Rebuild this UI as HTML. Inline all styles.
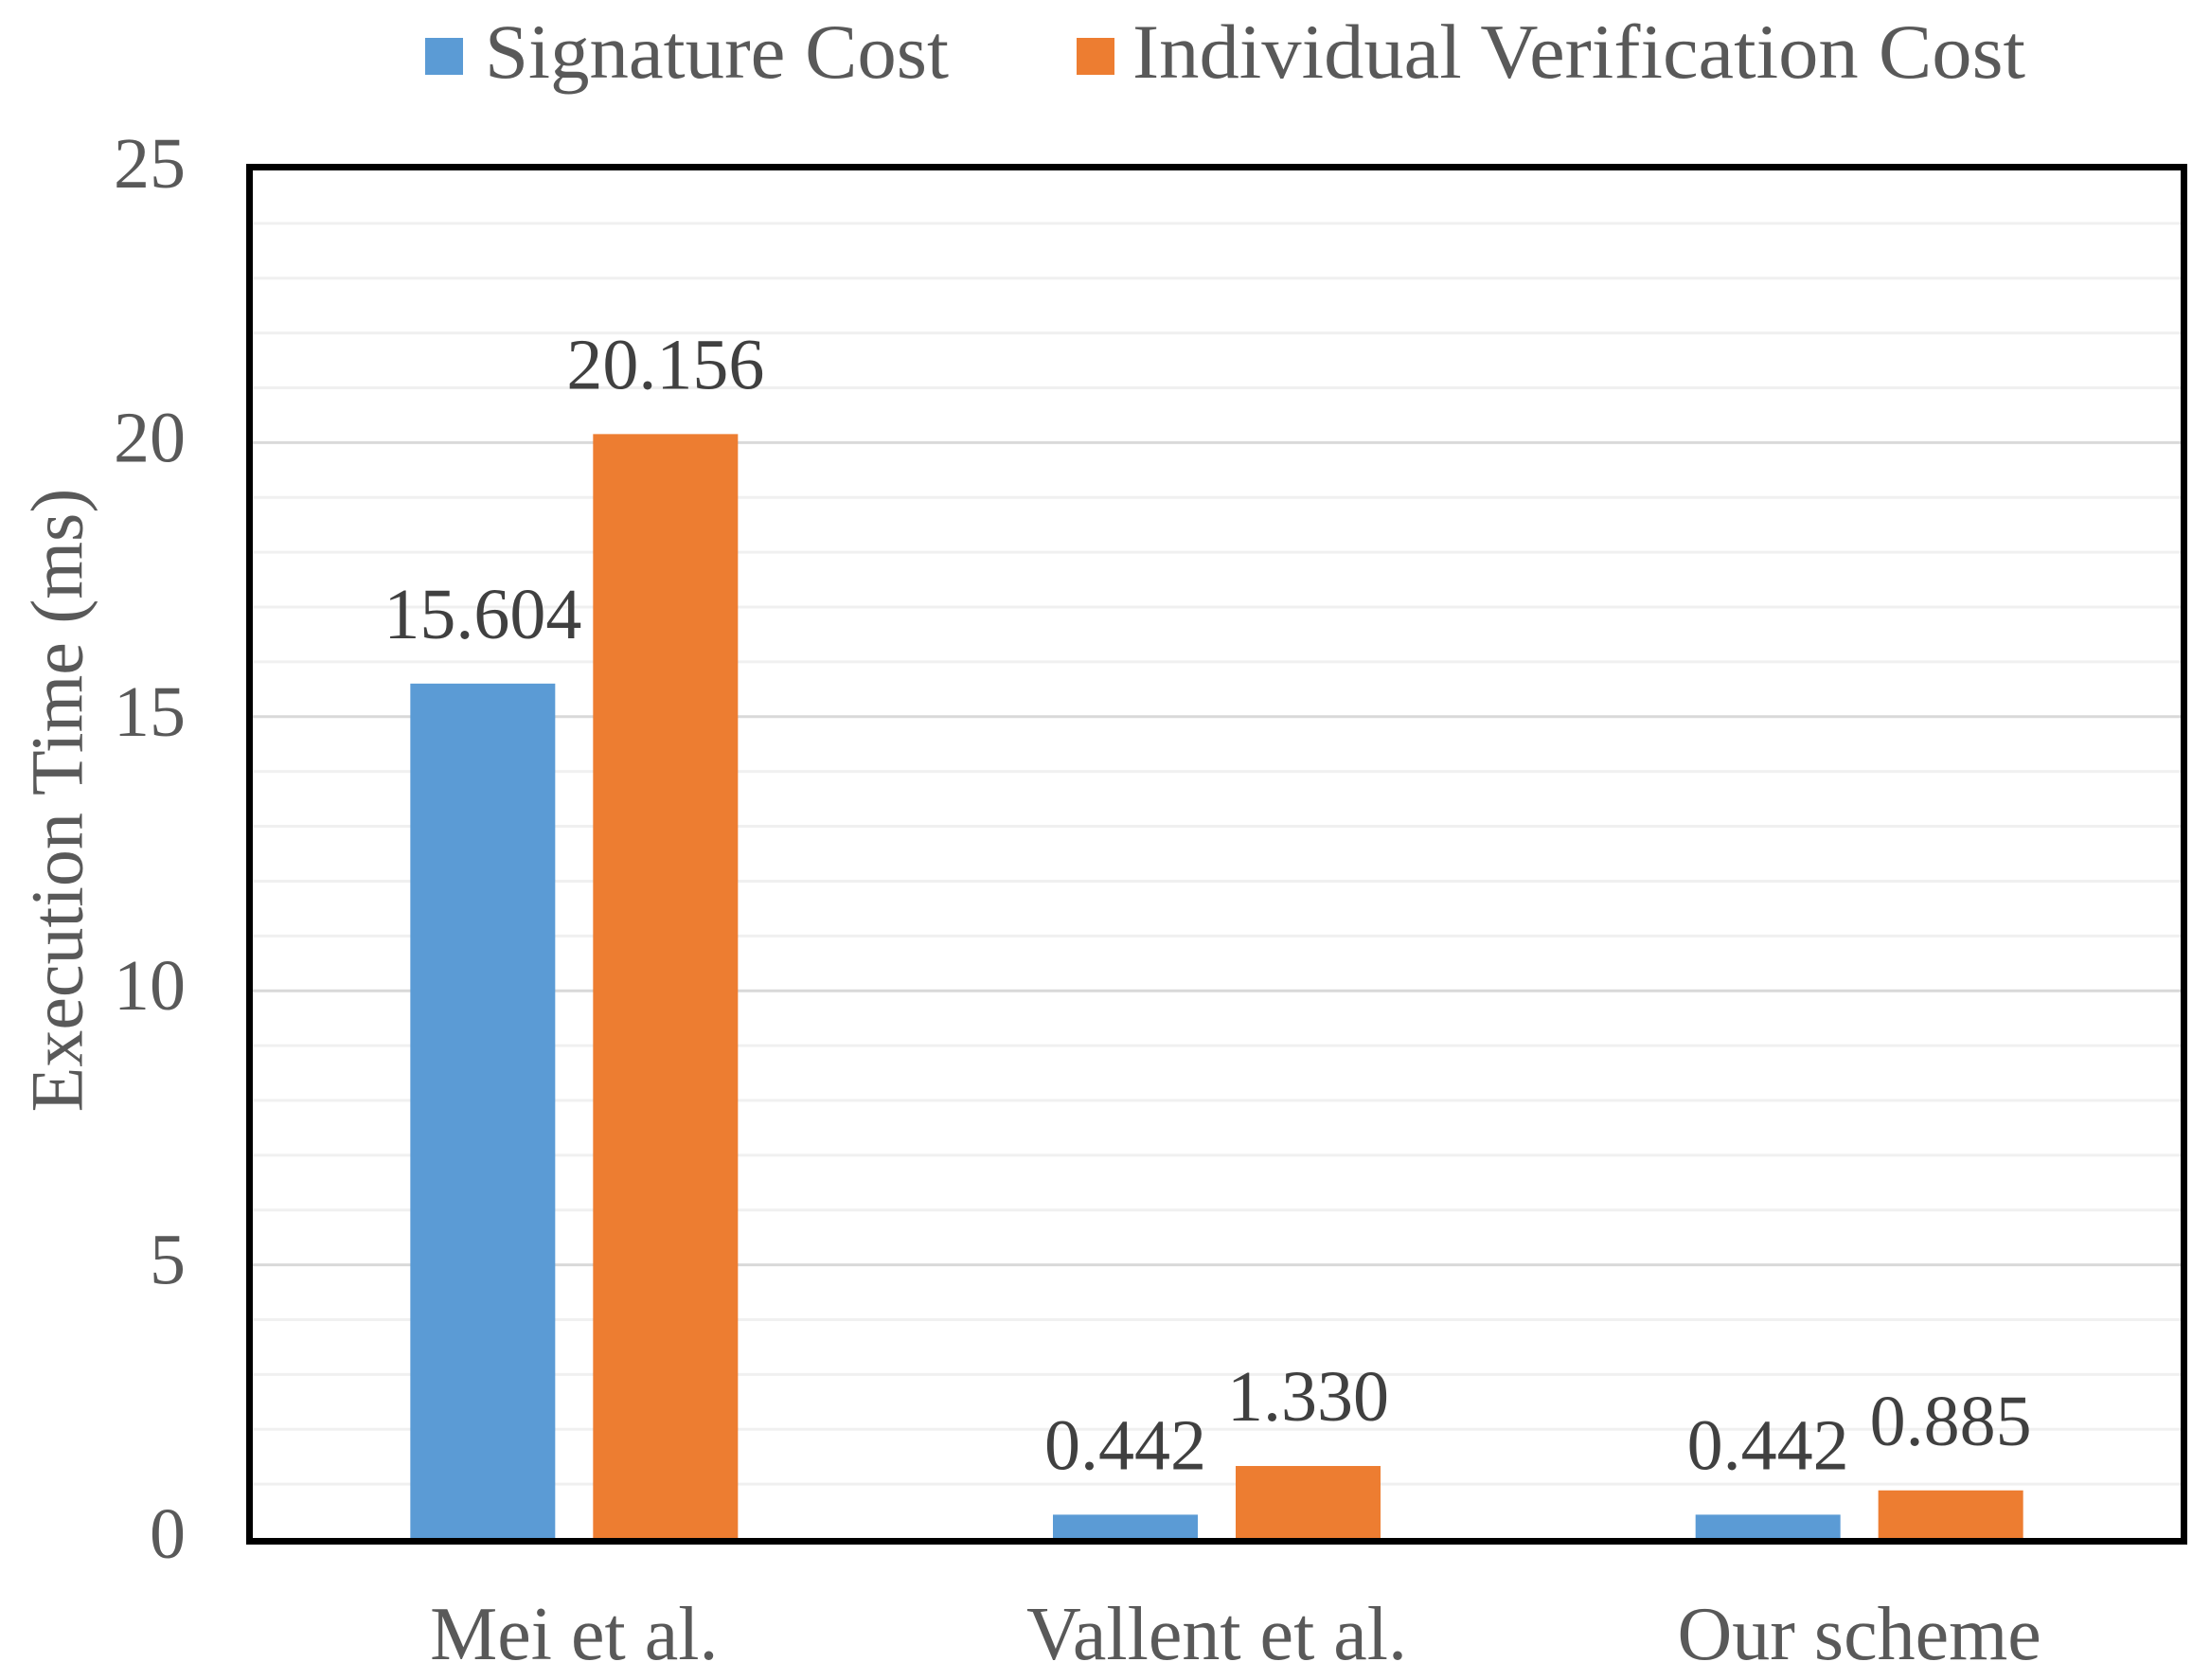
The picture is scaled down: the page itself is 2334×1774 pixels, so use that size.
<!DOCTYPE html>
<html><head><meta charset="utf-8"><style>
html,body{margin:0;padding:0;background:#fff;}
svg{display:block;}
text{font-family:"Liberation Serif",serif;}
</style></head><body>
<svg id="chart" width="2334" height="1774" viewBox="0 0 2334 1774" xmlns="http://www.w3.org/2000/svg">
<g id="grid"></g>
<g id="bars"></g>
<g id="labels"></g>
<g id="yticks"></g>
<g id="xticks"></g>
<rect x="263.5" y="176.5" width="2043" height="1451" fill="none" stroke="#000" stroke-width="7"/>
<text x="60" y="845" transform="rotate(-90 60 845)" text-anchor="middle" dominant-baseline="central" font-size="78" fill="#595959">Execution Time (ms)</text>
<g>
<g>
<rect x="449" y="40" width="40" height="39" fill="#5b9bd5"/>
<text x="512" y="82" font-size="82" fill="#595959" textLength="490" lengthAdjust="spacingAndGlyphs">Signature Cost</text>
</g>
<g>
<rect x="1137" y="40" width="40" height="39" fill="#ed7d31"/>
<text x="1196" y="82" font-size="82" fill="#595959" textLength="943" lengthAdjust="spacingAndGlyphs">Individual Verification Cost</text>
</g>
</g>
</svg>
<script>
const categories = ["Mei et al.", "Vallent et al.", "Our scheme"];
const signatureCost = [15.604, 0.442, 0.442];
const verificationCost = [20.156, 1.330, 0.885];
const signatureLabels = ["15.604", "0.442", "0.442"];
const verificationLabels = ["20.156", "1.330", "0.885"];
const yTicks = [0, 5, 10, 15, 20, 25];

const NS = "http://www.w3.org/2000/svg";
const plotL = 267, plotR = 2303, y0 = 1625, yTop = 178, yMax = 25;
const yS = v => y0 - v / yMax * (y0 - yTop);
const catW = (plotR - plotL) / categories.length;
const xC = i => plotL + catW * (i + 0.5);
const barW = 153, gap = 40;
function mk(tag, attrs, parent) {
  const e = document.createElementNS(NS, tag);
  for (const k in attrs) e.setAttribute(k, attrs[k]);
  parent.appendChild(e);
  return e;
}
const grid = document.getElementById('grid');
for (let v = 1; v < yMax; v++) {
  const g = mk('line', {x1: plotL, x2: plotR, y1: yS(v), y2: yS(v), stroke: v % 5 === 0 ? '#d9d9d9' : '#f0f0f0', 'stroke-width': 3}, grid);
  
  
}
const yt = document.getElementById('yticks');
yTicks.forEach(v => {
  const t = mk('text', {x: 196, y: yS(v) + 20, 'text-anchor': 'end', 'font-size': 76, fill: '#595959'}, yt);
  t.textContent = v;
  
  
});
const bars = document.getElementById('bars');
const labels = document.getElementById('labels');
const xt = document.getElementById('xticks');
categories.forEach((c, i) => {
  const xa = xC(i) - gap / 2 - barW, xb = xC(i) + gap / 2;
  const b1 = mk('rect', {x: xa, y: yS(signatureCost[i]), width: barW, height: y0 - yS(signatureCost[i]), fill: '#5b9bd5'}, bars);
  
  
  const b2 = mk('rect', {x: xb, y: yS(verificationCost[i]), width: barW, height: y0 - yS(verificationCost[i]), fill: '#ed7d31'}, bars);
  
  
  const l1 = mk('text', {x: xa + barW / 2, y: yS(signatureCost[i]) - 48, 'text-anchor': 'middle', 'font-size': 76, fill: '#404040'}, labels);
  l1.textContent = signatureLabels[i];
  
  
  const l2 = mk('text', {x: xb + barW / 2, y: yS(verificationCost[i]) - 48, 'text-anchor': 'middle', 'font-size': 76, fill: '#404040'}, labels);
  l2.textContent = verificationLabels[i];
  
  
  const cl = mk('text', {x: xC(i), y: 1752, 'text-anchor': 'middle', 'font-size': 80, fill: '#595959'}, xt);
  cl.textContent = c;
  
  
});
</script>
</body></html>
